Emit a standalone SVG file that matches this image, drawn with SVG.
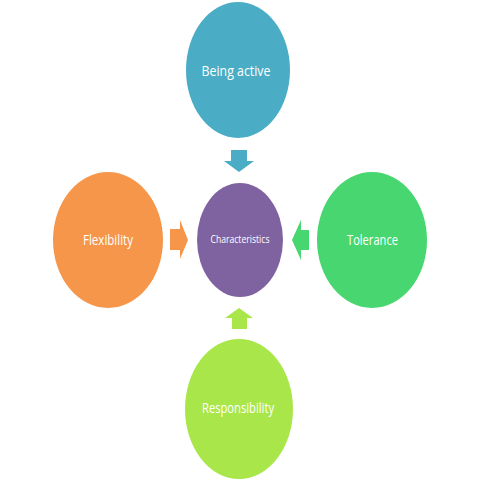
<svg xmlns="http://www.w3.org/2000/svg" width="480" height="480" viewBox="0 0 480 480">
<style>
.lbl{font-family:"Open Sans","Liberation Sans",sans-serif;fill:#ffffff;text-anchor:middle;font-size:15px}
.sm{font-size:11px}
</style>
<rect width="480" height="480" fill="#ffffff"/>
<g id="connectors">
<polygon fill="#4AACC5" points="231,150 247,150 247,161 254,161 239,172 224,161 231,161"/>
<polygon fill="#F5964A" points="170,229 180,229 180,220 188,240 180,259 180,250 170,250"/>
<polygon fill="#47D66F" points="309,230 301,230 301,220 292,240 301,260 301,250 309,250"/>
<polygon fill="#A9E64A" points="232,329 247,329 247,318 253,318 239,308 225,318 232,318"/>
</g>
<g id="being-active">
<ellipse cx="238" cy="70" rx="52" ry="68" fill="#4AACC5"/>
<text class="lbl" x="236" y="76" textLength="69" lengthAdjust="spacingAndGlyphs">Being active</text>
</g>
<g id="characteristics">
<ellipse cx="240" cy="240" rx="43" ry="57" fill="#7F63A1"/>
<text class="lbl sm" x="240" y="243" textLength="59" lengthAdjust="spacingAndGlyphs">Characteristics</text>
</g>
<g id="flexibility">
<ellipse cx="108" cy="240" rx="55" ry="68" fill="#F5964A"/>
<text class="lbl" x="108" y="245" textLength="50" lengthAdjust="spacingAndGlyphs">Flexibility</text>
</g>
<g id="tolerance">
<ellipse cx="372" cy="240" rx="55" ry="68" fill="#47D66F"/>
<text class="lbl" x="372.5" y="245" textLength="51" lengthAdjust="spacingAndGlyphs">Tolerance</text>
</g>
<g id="responsibility">
<ellipse cx="239" cy="409" rx="54" ry="70" fill="#A9E64A"/>
<text class="lbl" x="238" y="413" textLength="72" lengthAdjust="spacingAndGlyphs">Responsibility</text>
</g>
</svg>
